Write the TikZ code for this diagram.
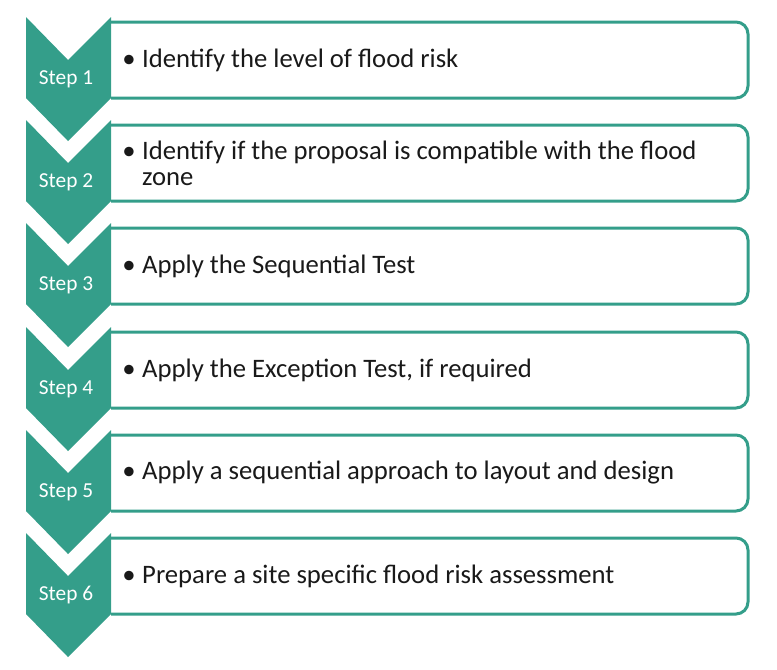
\documentclass[tikz,border=0pt]{standalone}
\usepackage{fontspec}
\setmainfont{Carlito}
\usetikzlibrary{positioning}
\definecolor{mteal}{RGB}{52,158,138}
\tikzset{chevron/.style = {fill=mteal}}
\tikzset{itembox/.style = {draw=mteal, line width=2.25pt, rounded corners=9pt}}
\tikzset{steplabel/.style = {text=white, font=\fontsize{16}{18}\selectfont, inner sep=0pt}}
\tikzset{itemtext/.style = {text=black!90, font=\fontsize{20}{19.5}\selectfont, inner sep=0pt, anchor=west}}

\begin{document}
\begin{tikzpicture}[x=0.75pt, y=-0.75pt]
      \useasboundingbox (0,0) rectangle (777,669);
      % boxes
      \draw [itembox] (111,22) -- (748,22) -- (748,98) -- (111,98);
      \draw [itembox] (111,125) -- (748,125) -- (748,201) -- (111,201);
      \draw [itembox] (111,228) -- (748,228) -- (748,304) -- (111,304);
      \draw [itembox] (111,332) -- (748,332) -- (748,408) -- (111,408);
      \draw [itembox] (111,435) -- (748,435) -- (748,511) -- (111,511);
      \draw [itembox] (111,538) -- (748,538) -- (748,614) -- (111,614);
      % chevrons
      \fill [chevron] (26,17) -- (68,60) -- (111,17) -- (111,98) -- (68,141) -- (26,98) -- cycle;
      \fill [chevron] (26,120) -- (68,163) -- (111,120) -- (111,201) -- (68,244) -- (26,201) -- cycle;
      \fill [chevron] (26,223) -- (68,266) -- (111,223) -- (111,304) -- (68,347) -- (26,304) -- cycle;
      \fill [chevron] (26,327) -- (68,370) -- (111,327) -- (111,408) -- (68,451) -- (26,408) -- cycle;
      \fill [chevron] (26,430) -- (68,473) -- (111,430) -- (111,511) -- (68,554) -- (26,511) -- cycle;
      \fill [chevron] (26,533) -- (68,576) -- (111,533) -- (111,614) -- (68,657) -- (26,614) -- cycle;
      % labels
      \node [steplabel] (s1) at (66,79) {Step 1};
      \node [steplabel] (s2) at (66,182) {Step 2};
      \node [steplabel] (s3) at (66,285) {Step 3};
      \node [steplabel] (s4) at (66,389) {Step 4};
      \node [steplabel] (s5) at (66,492) {Step 5};
      \node [steplabel] (s6) at (66,595) {Step 6};
      \node [itemtext] (t1) at (122,60) {\textbullet\hspace{5pt}Identify the level of flood risk};
      \node [itemtext] (t2) at (122,163) {\textbullet\hspace{5pt}\parbox[t]{450pt}{Identify if the proposal is compatible with the flood\\zone}};
      \node [itemtext] (t3) at (122,266) {\textbullet\hspace{5pt}Apply the Sequential Test};
      \node [itemtext] (t4) at (122,370) {\textbullet\hspace{5pt}Apply the Exception Test, if required};
      \node [itemtext] (t5) at (122,473) {\textbullet\hspace{5pt}Apply a sequential approach to layout and design};
      \node [itemtext] (t6) at (122,576) {\textbullet\hspace{5pt}Prepare a site specific flood risk assessment};
    \end{tikzpicture}
\end{document}
